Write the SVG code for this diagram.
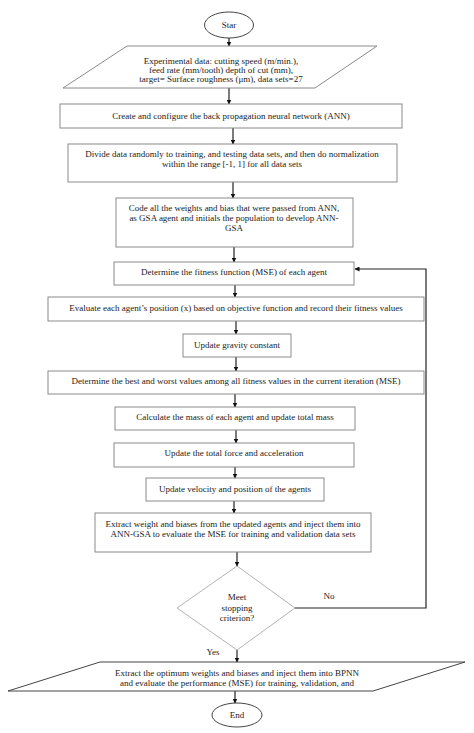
<svg xmlns="http://www.w3.org/2000/svg" width="474" height="733" viewBox="0 0 474 733">
<style>
.box{fill:#fff;stroke:#8a8a8a;stroke-width:1}
.dk{fill:#fff;stroke:#444;stroke-width:1}
.dia{fill:#fff;stroke:#a0a0a0;stroke-width:0.8}
.t{font-family:"Liberation Serif","Times New Roman",serif;font-size:9px;fill:#222;text-anchor:middle;dominant-baseline:central}
.c{fill:none;stroke:#222;stroke-width:1.2}
</style>
<defs>
<marker id="ah" viewBox="0 0 10 10" refX="9" refY="5" markerWidth="5" markerHeight="5" orient="auto" markerUnits="userSpaceOnUse">
<path d="M0,0 L10,5 L0,10 z" fill="#111"/>
</marker>
</defs>
<rect width="474" height="733" fill="#fff"/>
<g id="connectors">
<line class="c" x1="229" y1="38" x2="229" y2="46" marker-end="url(#ah)"/>
<line class="c" x1="229" y1="88" x2="229" y2="104" marker-end="url(#ah)"/>
<line class="c" x1="233" y1="128" x2="233" y2="144" marker-end="url(#ah)"/>
<line class="c" x1="233" y1="182" x2="233" y2="198" marker-end="url(#ah)"/>
<line class="c" x1="234" y1="247" x2="234" y2="262" marker-end="url(#ah)"/>
<line class="c" x1="235" y1="285" x2="235" y2="297" marker-end="url(#ah)"/>
<line class="c" x1="236" y1="321" x2="236" y2="334" marker-end="url(#ah)"/>
<line class="c" x1="236" y1="357" x2="236" y2="371" marker-end="url(#ah)"/>
<line class="c" x1="235" y1="394" x2="235" y2="407" marker-end="url(#ah)"/>
<line class="c" x1="236" y1="430" x2="236" y2="443" marker-end="url(#ah)"/>
<line class="c" x1="235" y1="467" x2="235" y2="478" marker-end="url(#ah)"/>
<line class="c" x1="234" y1="501" x2="234" y2="513" marker-end="url(#ah)"/>
<line class="c" x1="237" y1="552" x2="237" y2="566" marker-end="url(#ah)"/>
<line class="c" x1="237" y1="650" x2="237" y2="662" marker-end="url(#ah)"/>
<line class="c" x1="235" y1="691" x2="235" y2="703" marker-end="url(#ah)"/>
<polyline class="c" points="295,608 426,608 426,269 355,269" marker-end="url(#ah)"/>
<text class="t" x="329" y="596">No</text>
<text class="t" x="213" y="652">Yes</text>
</g>
<g id="start">
<ellipse class="dk" cx="229" cy="25" rx="24.5" ry="13"/>
<text class="t" x="229" y="25">Star</text>
</g>
<g id="input">
<polygon class="box" points="127,46 377,46 315,88 63,88"/>
<text class="t" x="221" y="61">Experimental data: cutting speed (m/min.),</text>
<text class="t" x="221" y="70">feed rate (mm/tooth) depth of cut (mm),</text>
<text class="t" x="221" y="79">target= Surface roughness (μm), data sets=27</text>
</g>
<g id="create">
<rect class="box" x="60" y="104" width="342" height="24"/>
<text class="t" x="231" y="116">Create and configure the back propagation neural network (ANN)</text>
</g>
<g id="divide">
<rect class="box" x="68" y="144" width="329" height="38"/>
<text class="t" x="232" y="154">Divide data randomly to training, and testing data sets, and then do normalization</text>
<text class="t" x="232" y="164">within the range [-1, 1] for all data sets</text>
</g>
<g id="code">
<rect class="box" x="116" y="198" width="237" height="49"/>
<text class="t" x="234" y="208">Code all the weights and bias that were passed from ANN,</text>
<text class="t" x="234" y="218">as GSA agent and initials the population to develop ANN-</text>
<text class="t" x="234" y="228">GSA</text>
</g>
<g id="fitness">
<rect class="box" x="114" y="262" width="240" height="23"/>
<text class="t" x="234" y="272">Determine the fitness function (MSE) of each agent</text>
</g>
<g id="evaluate">
<rect class="box" x="48" y="297" width="376" height="24"/>
<text class="t" x="236" y="308">Evaluate each agent’s position (x) based on objective function and record their fitness values</text>
</g>
<g id="gravity">
<rect class="box" x="183" y="334" width="108" height="23"/>
<text class="t" x="237" y="345">Update gravity constant</text>
</g>
<g id="bestworst">
<rect class="box" x="48" y="371" width="376" height="23"/>
<text class="t" x="236" y="381">Determine the best and worst values among all fitness values in the current iteration (MSE)</text>
</g>
<g id="mass">
<rect class="box" x="115" y="407" width="240" height="23"/>
<text class="t" x="235" y="417">Calculate the mass of each agent and update total mass</text>
</g>
<g id="force">
<rect class="box" x="114" y="443" width="240" height="24"/>
<text class="t" x="234" y="453">Update the total force and acceleration</text>
</g>
<g id="velocity">
<rect class="box" x="146" y="478" width="178" height="23"/>
<text class="t" x="235" y="489">Update velocity and position of the agents</text>
</g>
<g id="extract">
<rect class="box" x="95" y="513" width="276" height="39"/>
<text class="t" x="233" y="524">Extract weight and biases from the updated agents and inject them into</text>
<text class="t" x="233" y="534">ANN-GSA to evaluate the MSE for training and validation data sets</text>
</g>
<g id="decision">
<polygon class="dia" points="237,566 295,608 237,650 177,608"/>
<text class="t" x="237" y="597">Meet</text>
<text class="t" x="237" y="608">stopping</text>
<text class="t" x="237" y="618">criterion?</text>
</g>
<g id="output">
<polygon class="dk" points="100,662 465,662 373,691 8,691"/>
<text class="t" x="237" y="673">Extract the optimum weights and biases and inject them into BPNN</text>
<text class="t" x="237" y="683">and evaluate the performance (MSE) for training, validation, and</text>
</g>
<g id="end">
<ellipse class="dk" cx="237" cy="715" rx="25" ry="12"/>
<text class="t" x="237" y="715">End</text>
</g>
</svg>
